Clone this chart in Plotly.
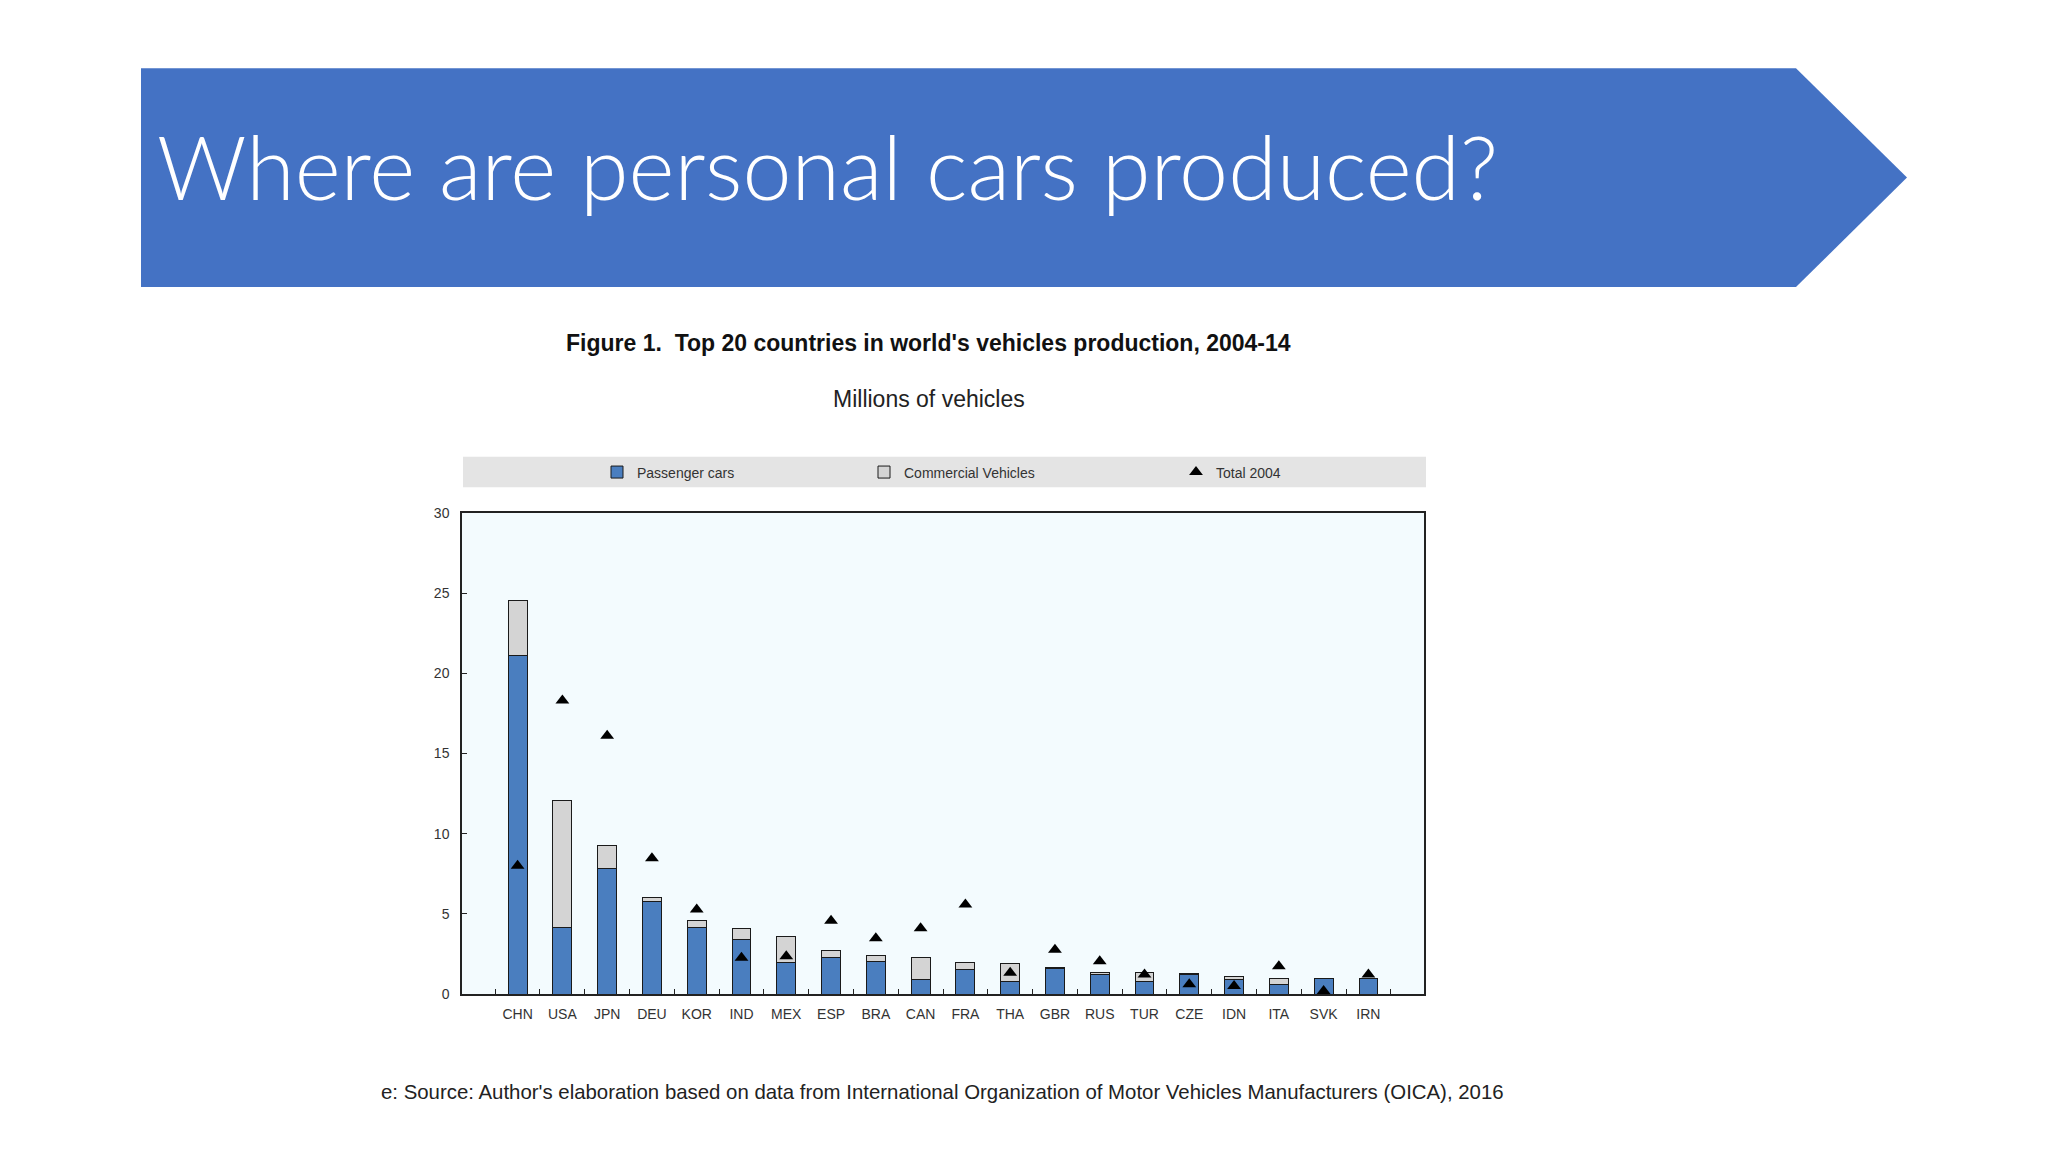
import plotly.graph_objects as go

W, H = 2048, 1152

countries = ["CHN", "USA", "JPN", "DEU", "KOR", "IND", "MEX", "ESP", "BRA", "CAN",
             "FRA", "THA", "GBR", "RUS", "TUR", "CZE", "IDN", "ITA", "SVK", "IRN"]
passenger_cars = [21.1, 4.17, 7.84, 5.75, 4.15, 3.43, 1.95, 2.26, 2.01, 0.88,
                  1.54, 0.78, 1.60, 1.23, 0.78, 1.25, 0.88, 0.62, 0.99, 0.95]
commercial_vehicles = [3.46, 7.93, 1.44, 0.26, 0.43, 0.67, 1.64, 0.47, 0.41, 1.38,
                       0.41, 1.11, 0.04, 0.14, 0.55, 0.02, 0.21, 0.37, 0.0, 0.04]
total_2004 = [8.0, 18.3, 16.1, 8.47, 5.27, 2.26, 2.36, 4.58, 3.49, 4.1,
              5.58, 1.33, 2.77, 2.05, 1.23, 0.62, 0.51, 1.74, 0.2, 1.23]
y_ticks = [0, 5, 10, 15, 20, 25, 30]


def px(x):
    return x / W


def py(y):
    return 1 - y / H


fig = go.Figure()
fig.add_trace(go.Bar(
    x=countries, y=passenger_cars, name="Passenger cars",
    marker=dict(color="#4A7EBF", line=dict(color="#1a1a1a", width=1)),
    width=0.42, legend="legend",
))
fig.add_trace(go.Bar(
    x=countries, y=commercial_vehicles, name="Commercial Vehicles",
    marker=dict(color="#D4D4D4", line=dict(color="#1a1a1a", width=1)),
    width=0.42, legend="legend2",
))
fig.add_trace(go.Scatter(
    x=countries, y=total_2004, name="Total 2004", mode="markers",
    marker=dict(symbol="triangle-up", size=12, color="#000000"),
    legend="legend3",
))

# Plot area in pixels
x0p, x1p, y0p, y1p = 462, 1424, 512, 1000

shapes = [
    dict(type="path", xref="paper", yref="paper",
         path=(f"M {px(141)},{py(61)} L {px(1796)},{py(61)} L {px(1907)},{py(172)} "
               f"L {px(1796)},{py(283)} L {px(141)},{py(283)} Z"),
         fillcolor="#4472C4", line=dict(width=0), layer="below"),
    dict(type="rect", xref="paper", yref="paper",
         x0=px(463), x1=px(1426), y0=py(486), y1=py(455),
         fillcolor="#E4E4E4", line=dict(width=0), layer="below"),
]

annotations = [
    dict(text="Where are personal cars produced?", xref="paper", yref="paper",
         x=px(155), y=py(160), xanchor="left", yanchor="middle", showarrow=False,
         font=dict(family="Lato, Open Sans, sans-serif", size=88, color="white", weight=300)),
    dict(text="<b>Figure 1.  Top 20 countries in world's vehicles production, 2004-14</b>",
         xref="paper", yref="paper", x=px(928), y=py(340), xanchor="center", yanchor="middle",
         showarrow=False, font=dict(family="Liberation Sans, Arial", size=23, color="#111111")),
    dict(text="Millions of vehicles", xref="paper", yref="paper", x=px(929), y=py(396),
         xanchor="center", yanchor="middle", showarrow=False,
         font=dict(family="Liberation Sans, Arial", size=23, color="#222222")),
    dict(text="e: Source: Author's elaboration based on data from International Organization of Motor Vehicles Manufacturers (OICA), 2016",
         xref="paper", yref="paper", x=px(379), y=py(1099), xanchor="left", yanchor="middle",
         showarrow=False, font=dict(family="Liberation Sans, Arial", size=20.4, color="#222222")),
]

legend_font = dict(family="Liberation Sans Narrow, Liberation Sans, Arial", size=14, color="#333333")


def leg(xpix):
    return dict(orientation="h", x=px(xpix), y=py(471), xanchor="left", yanchor="middle",
                bgcolor="rgba(0,0,0,0)", borderwidth=0, font=legend_font)


fig.update_layout(
    width=W, height=H,
    margin=dict(l=0, r=0, t=0, b=0),
    paper_bgcolor="white",
    plot_bgcolor="#F3FBFE",
    barmode="stack",
    showlegend=True,
    legend=leg(597),
    legend2=leg(864),
    legend3=leg(1176),
    xaxis=dict(domain=[px(x0p), px(x1p)], showline=True, linecolor="#222222", linewidth=1.5,
               mirror=True, ticks="inside", ticklen=5, tickcolor="#222222",
               tickson="boundaries", showgrid=False, ticklabelstandoff=6,
               tickfont=dict(family="Liberation Sans Narrow, Liberation Sans, Arial", size=14, color="#333333")),
    yaxis=dict(domain=[py(y1p), py(y0p)], range=[0, 30], tickvals=y_ticks,
               showline=True, linecolor="#222222", linewidth=1.5, mirror=True,
               ticks="inside", ticklen=5, tickcolor="#222222", showgrid=False, zeroline=False,
               ticklabelstandoff=8,
               tickfont=dict(family="Liberation Sans Narrow, Liberation Sans, Arial", size=14, color="#333333")),
    shapes=shapes,
    annotations=annotations,
)

fig.write_html("out.html")
